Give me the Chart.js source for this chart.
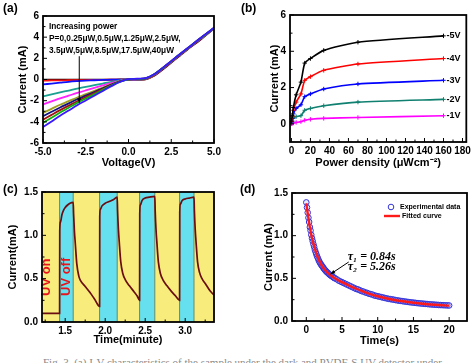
<!DOCTYPE html>
<html><head><meta charset="utf-8">
<script src="https://cdn.jsdelivr.net/npm/chart.js@4.4.1/dist/chart.umd.min.js"></script>
<style>
html,body{margin:0;padding:0;background:#fff;}
#wrap{position:relative;width:474px;height:363px;overflow:hidden;background:#fff;}
canvas{position:absolute;}
.lbl{position:absolute;font:bold 12px "Liberation Sans",Arial,sans-serif;color:#000;}
#cap{position:absolute;left:43px;top:356px;font:11px/12px "Liberation Serif",serif;color:#8a8a8a;white-space:nowrap;}
</style></head><body>
<div id="wrap">
<canvas id="ca" width="237" height="175" style="left:0;top:0"></canvas>
<canvas id="cb" width="237" height="175" style="left:237px;top:0"></canvas>
<canvas id="cc" width="237" height="180" style="left:0;top:175px"></canvas>
<canvas id="cd" width="237" height="180" style="left:237px;top:175px"></canvas>
<div class="lbl" style="left:3px;top:1px">(a)</div>
<div class="lbl" style="left:241px;top:1px">(b)</div>
<div class="lbl" style="left:3px;top:182px">(c)</div>
<div class="lbl" style="left:240px;top:182px">(d)</div>
<div id="cap">Fig. 3&nbsp; (a) I-V characteristics of the sample under the dark and PVDF-S UV detector under</div>
</div>
<script>
// ---------- Panel (a): I-V curves ----------
const ivVoltage = [-5,-4.5,-4,-3.5,-3,-2.5,-2,-1.5,-1,-0.5,0,0.5,1,1.5,2,2.5,3,3.5,4,4.5,5];
const ivPowerLabels = ['0','0.25μW','0.5μW','1.25μW','2.5μW','3.5μW','5μW','8.5μW','17.5μW','40μW'];
const ivI0 = [-0.02,-0.02,-0.02,-0.02,-0.02,-0.02,-0.01,-0.01,-0.01,0,0, 0,0.02,0.35,0.95,1.6,2.25,2.9,3.5,4.15,4.8];
const ivI1 = [-0.10,-0.09,-0.08,-0.07,-0.06,-0.05,-0.04,-0.03,-0.02,-0.01,0, 0,0.03,0.38,0.98,1.62,2.28,2.92,3.55,4.17,4.82];
const ivI2 = [-0.47,-0.38,-0.30,-0.22,-0.16,-0.11,-0.07,-0.04,-0.02,-0.01,0, 0.01,0.05,0.42,1.02,1.66,2.32,2.95,3.58,4.2,4.84];
const ivI3 = [-1.6,-1.41,-1.22,-1.04,-0.86,-0.70,-0.54,-0.38,-0.22,-0.08,0, 0.02,0.06,0.44,1.04,1.68,2.33,2.96,3.6,4.21,4.85];
const ivI4 = [-2.35,-2.07,-1.79,-1.53,-1.27,-1.03,-0.80,-0.56,-0.33,-0.12,0.01, 0.03,0.07,0.45,1.05,1.69,2.34,2.97,3.61,4.22,4.86];
const ivI5 = [-3.15,-2.77,-2.39,-2.05,-1.70,-1.39,-1.07,-0.76,-0.44,-0.16,0.01, 0.03,0.08,0.46,1.06,1.70,2.35,2.98,3.62,4.23,4.86];
const ivI6 = [-3.47,-3.05,-2.64,-2.26,-1.87,-1.53,-1.18,-0.83,-0.49,-0.17,0.02, 0.04,0.09,0.47,1.07,1.71,2.36,2.99,3.63,4.24,4.87];
const ivI7 = [-3.8,-3.34,-2.89,-2.47,-2.05,-1.67,-1.29,-0.91,-0.53,-0.19,0.02, 0.05,0.10,0.48,1.08,1.72,2.37,3.0,3.64,4.25,4.88];
const ivI8 = [-4.1,-3.61,-3.12,-2.67,-2.21,-1.80,-1.39,-0.98,-0.57,-0.21,0.02, 0.06,0.11,0.49,1.09,1.73,2.38,3.01,3.65,4.26,4.88];
const ivI9 = [-4.5,-3.96,-3.42,-2.93,-2.43,-1.98,-1.53,-1.08,-0.63,-0.23,0.03, 0.07,0.12,0.5,1.1,1.74,2.39,3.02,3.66,4.27,4.9];
const ivXTicks = [-5,-2.5,0,2.5,5];
const ivYTicks = [-6,-4,-2,0,2,4,6];
const ivNote = ['Increasing power','P=0,0.25μW,0.5μW,1.25μW,2.5μW,','3.5μW,5μW,8.5μW,17.5μW,40μW'];

// ---------- Panel (b): current vs power density ----------
const pdDensity = [0,1,2,5,10,14,20,34,70,160];
const pdBias = ['-5V','-4V','-3V','-2V','-1V'];
const pdM5 = [0.15,0.45,0.9,1.6,2.3,3.35,3.6,4.05,4.5,4.85];
const pdM4 = [0.12,0.4,0.75,1.2,1.65,2.4,2.6,2.95,3.3,3.6];
const pdM3 = [0.1,0.3,0.55,0.85,1.05,1.5,1.65,1.92,2.2,2.4];
const pdM2 = [0.05,0.15,0.3,0.4,0.45,0.75,0.85,1.0,1.2,1.35];
const pdM1 = [0,0.02,0.05,0.08,0.12,0.2,0.25,0.3,0.35,0.45];
const pdXTicks = [0,20,40,60,80,100,120,140,160,180];
const pdYTicks = [0,2,4,6];

// ---------- Panel (c): switching ----------
const swTime = [1.21,1.43,1.432,1.44,1.46,1.48,1.50,1.53,1.56,1.60,1.605,1.615,1.625,1.645,1.67,1.69,1.75,1.81,1.87,1.93,
  1.932,1.94,1.96,2.00,2.05,2.10,2.15,2.155,2.165,2.175,2.195,2.22,2.25,2.30,2.36,2.40,2.43,
  2.432,2.44,2.46,2.50,2.55,2.62,2.625,2.635,2.645,2.665,2.69,2.72,2.77,2.83,2.88,2.93,
  2.932,2.94,2.96,3.00,3.05,3.11,3.115,3.125,3.135,3.155,3.18,3.21,3.26,3.31,3.36];
const swCurrent = [0.10,0.10,1.05,1.15,1.24,1.29,1.32,1.35,1.37,1.38,1.25,1.05,0.92,0.67,0.53,0.48,0.41,0.34,0.26,0.18,
  1.22,1.30,1.34,1.37,1.39,1.41,1.44,1.28,1.07,0.93,0.69,0.56,0.49,0.42,0.35,0.30,0.25,
  1.25,1.35,1.40,1.43,1.44,1.45,1.28,1.07,0.93,0.69,0.56,0.49,0.42,0.35,0.30,0.25,
  1.27,1.36,1.40,1.42,1.43,1.44,1.28,1.07,0.93,0.69,0.57,0.50,0.43,0.36,0.31];
const uvOnStart = [1.43,1.93,2.43,2.93];
const uvOnEnd = [1.60,2.15,2.62,3.11];
const swXTicks = [1.5,2.0,2.5,3.0];
const swYTicks = [0,0.5,1.0,1.5];

// ---------- Panel (d): decay fit ----------
const dcTime = [0,0.1,0.2,0.3,0.4,0.5,0.6,0.7,0.8,0.9,1.0,1.1,1.2,1.3,1.4,1.5,1.6,1.7,1.8,1.9,2.0,2.1,2.2,2.3,2.4,2.5,2.6,2.7,2.8,2.9,3.0,3.1,3.2,3.3,3.4,3.5,3.6,3.7,3.8,3.9,4.0,
  4.25,4.5,4.75,5,5.25,5.5,5.75,6,6.25,6.5,6.75,7,7.25,7.5,7.75,8,8.25,8.5,8.75,9,9.25,9.5,9.75,10,10.25,10.5,10.75,11,11.25,11.5,11.75,12,12.25,12.5,12.75,13,13.25,13.5,13.75,14,14.25,14.5,14.75,15,15.25,15.5,15.75,16,16.25,16.5,16.75,17,17.25,17.5,17.75,18,18.25,18.5,18.75,19,19.25,19.5,19.75,20];
const dcExp = [1.39,1.33,1.27,1.21,1.16,1.10,1.06,1.01,0.97,0.935,0.90,0.87,0.835,0.81,0.785,0.76,0.74,0.72,0.70,0.685,0.67,0.658,0.646,0.634,0.622,0.61,0.60,0.59,0.58,0.572,0.565,0.557,0.549,0.541,0.535,0.53,0.524,0.518,0.512,0.506,0.50,
  0.49,0.475,0.465,0.455,0.445,0.435,0.425,0.415,0.405,0.395,0.385,0.375,0.37,0.36,0.35,0.345,0.335,0.33,0.32,0.315,0.31,0.30,0.295,0.29,0.285,0.28,0.275,0.27,0.265,0.26,0.257,0.253,0.25,0.245,0.242,0.238,0.235,0.232,0.229,0.226,0.223,0.22,0.218,0.215,0.213,0.21,0.208,0.206,0.204,0.202,0.2,0.198,0.196,0.194,0.193,0.191,0.19,0.188,0.187,0.186,0.185,0.184,0.183,0.182];
const fitTime = [0,0.25,0.5,0.75,1,1.5,2,2.5,3,3.5,4,5,6,7,8,9,10,12,14,16,18,20];
const fitCurrent = [1.38,1.23,1.10,0.99,0.905,0.77,0.675,0.61,0.565,0.53,0.50,0.455,0.415,0.378,0.345,0.315,0.29,0.252,0.226,0.205,0.19,0.18];
const dcXTicks = [0,5,10,15,20];
const dcYTicks = [0,0.5,1.0,1.5];
const dcLegend = ['Experimental data','Fitted curve'];
const dcTau = ['τ₁ = 0.84s','τ₂ = 5.26s'];

// ---------- common ----------
const FF = '"Liberation Sans", Arial, sans-serif';
Chart.defaults.font.family = FF;
Chart.defaults.color = '#000';

function axis(o){
  return {
    type:'linear', min:o.min, max:o.max,
    afterBuildTicks: s => { s.ticks = o.ticks.map(v => ({value:v})); },
    afterFit: s => { if (o.w != null) s.width = o.w; if (o.h != null) s.height = o.h; },
    ticks:{font:{size:10, weight:'bold'}, color:'#000', padding:o.tp, callback:o.fmt, maxRotation:0, autoSkip:false},
    grid:{display:false, drawTicks:false},
    border:{display:false},
    title:{display:true, text:o.title, color:'#000', font:{size:11, weight:'bold'}, padding:o.titlePad}
  };
}

const framePlugin = {
  id:'frame',
  afterDraw(chart){
    const ctx = chart.ctx, a = chart.chartArea, xs = chart.scales.x, ys = chart.scales.y;
    ctx.save();
    ctx.strokeStyle = '#000'; ctx.lineWidth = 1;
    const xt = xs.ticks.map(t => t.value), yt = ys.ticks.map(t => t.value);
    function minors(vals, s){
      const out = [];
      if (vals.length < 2) return out;
      const step = vals[1] - vals[0];
      for (let i = -1; i < vals.length; i++){
        const v = (i < 0 ? vals[0] - step/2 : vals[i] + step/2);
        if (v > s.min && v < s.max) out.push(v);
      }
      return out;
    }
    ctx.beginPath();
    xt.forEach(v => { const p = xs.getPixelForValue(v); ctx.moveTo(p, a.bottom); ctx.lineTo(p, a.bottom - 4); });
    minors(xt, xs).forEach(v => { const p = xs.getPixelForValue(v); ctx.moveTo(p, a.bottom); ctx.lineTo(p, a.bottom - 2.5); });
    yt.forEach(v => { const p = ys.getPixelForValue(v); ctx.moveTo(a.left, p); ctx.lineTo(a.left + 4, p); });
    minors(yt, ys).forEach(v => { const p = ys.getPixelForValue(v); ctx.moveTo(a.left, p); ctx.lineTo(a.left + 2.5, p); });
    ctx.stroke();
    ctx.lineWidth = 1.8;
    ctx.strokeRect(a.left, a.top, a.right - a.left, a.bottom - a.top);
    ctx.restore();
  }
};

function arrow(ctx, x1, y1, x2, y2, head){
  ctx.beginPath(); ctx.moveTo(x1, y1); ctx.lineTo(x2, y2); ctx.stroke();
  const ang = Math.atan2(y2 - y1, x2 - x1);
  ctx.beginPath(); ctx.moveTo(x2, y2);
  ctx.lineTo(x2 - head*Math.cos(ang - 0.4), y2 - head*Math.sin(ang - 0.4));
  ctx.lineTo(x2 - head*Math.cos(ang + 0.4), y2 - head*Math.sin(ang + 0.4));
  ctx.closePath(); ctx.fill();
}

const baseOpts = (scales, padding) => ({
  responsive:false, animation:false, devicePixelRatio:1,
  layout:{padding},
  plugins:{legend:{display:false}, tooltip:{enabled:false}},
  scales
});

// ---------- Chart (a) ----------
const ivCurves = [ivI0,ivI1,ivI2,ivI3,ivI4,ivI5,ivI6,ivI7,ivI8,ivI9];
const ivColors = ['#1a0000','#ff1010','#1010ff','#18a090','#ff20ff','#a0a020','#101080','#a01010','#10b010','#3818ff'];
new Chart(document.getElementById('ca'), {
  type:'line',
  data:{datasets: ivCurves.map((arr, i) => ({
    label: ivPowerLabels[i],
    data: ivVoltage.map((v, k) => ({x:v, y:arr[k]})),
    borderColor: ivColors[i], borderWidth:1.8, pointRadius:0, tension:0.35,
    order: ivCurves.length - i
  }))},
  options: baseOpts({
    x: axis({min:-5, max:5, ticks:ivXTicks, h:32, tp:3, fmt:v => v.toFixed(1), title:'Voltage(V)', titlePad:{top:0, bottom:5}}),
    y: axis({min:-6, max:6, ticks:ivYTicks, w:43, tp:4, fmt:v => String(v), title:'Current (mA)', titlePad:{top:16, bottom:0}})
  }, {top:16, right:23, left:0, bottom:0}),
  plugins:[framePlugin, {
    id:'noteA',
    afterDatasetsDraw(chart){
      const ctx = chart.ctx, xs = chart.scales.x, ys = chart.scales.y, a = chart.chartArea;
      ctx.save();
      ctx.fillStyle = '#000'; ctx.strokeStyle = '#000'; ctx.lineWidth = 1;
      ctx.font = 'bold 8.3px ' + FF; ctx.textBaseline = 'middle'; ctx.textAlign = 'left';
      ivNote.forEach((t, i) => ctx.fillText(t, a.left + 6, a.top + 11 + i * 12));
      const ax = xs.getPixelForValue(-2.88);
      arrow(ctx, ax, ys.getPixelForValue(2.2), ax, ys.getPixelForValue(-2.2), 5);
      ctx.restore();
    }
  }]
});

// ---------- Chart (b) ----------
const pdSeries = [pdM5,pdM4,pdM3,pdM2,pdM1];
const pdColors = ['#000000','#ff0000','#0000ff','#108070','#ff00ff'];
new Chart(document.getElementById('cb'), {
  type:'line',
  data:{datasets: pdSeries.map((arr, i) => ({
    label: pdBias[i],
    data: pdDensity.map((d, k) => ({x:d, y:arr[k]})),
    borderColor: pdColors[i], backgroundColor: pdColors[i], borderWidth:1.6,
    pointStyle:'cross', pointRadius:2.2, pointBorderWidth:1, tension:0.2
  }))},
  options: baseOpts({
    x: axis({min:-1.5, max:184, ticks:pdXTicks, h:33, tp:3, fmt:v => String(v), title:'Power density (μWcm⁻²)', titlePad:{top:0, bottom:5}}),
    y: axis({min:-1, max:6, ticks:pdYTicks, w:53, tp:4, fmt:v => String(v), title:'Current (mA)', titlePad:{top:31, bottom:0}})
  }, {top:15, right:7, left:0, bottom:0}),
  plugins:[framePlugin, {
    id:'labelsB',
    afterDatasetsDraw(chart){
      const ctx = chart.ctx, xs = chart.scales.x, ys = chart.scales.y;
      ctx.save();
      ctx.fillStyle = '#000'; ctx.font = 'bold 9px ' + FF; ctx.textBaseline = 'middle'; ctx.textAlign = 'left';
      pdSeries.forEach((arr, i) => {
        const n = arr.length - 1;
        ctx.fillText(pdBias[i], xs.getPixelForValue(pdDensity[n]) + 3, ys.getPixelForValue(arr[n]));
      });
      ctx.restore();
    }
  }]
});

// ---------- Chart (c) ----------
new Chart(document.getElementById('cc'), {
  type:'line',
  data:{datasets:[{
    label:'Current',
    data: swTime.map((t, k) => ({x:t, y:swCurrent[k]})),
    borderColor:'#6a0c10', borderWidth:1.7, pointRadius:0, cubicInterpolationMode:'monotone'
  }]},
  options: baseOpts({
    x: axis({min:1.21, max:3.36, ticks:swXTicks, h:33, tp:3, fmt:v => v.toFixed(1), title:'Time(minute)', titlePad:{top:0, bottom:8}}),
    y: axis({min:0, max:1.5, ticks:swYTicks, w:42, tp:4, fmt:v => v.toFixed(1), title:'Current(mA)', titlePad:{top:6, bottom:0}})
  }, {top:17, right:23, left:0, bottom:0}),
  plugins:[{
    id:'bands',
    beforeDatasetsDraw(chart){
      const ctx = chart.ctx, xs = chart.scales.x, a = chart.chartArea;
      ctx.save();
      ctx.fillStyle = '#f7ec7c';
      ctx.fillRect(a.left, a.top, a.right - a.left, a.bottom - a.top);
      ctx.fillStyle = '#66e0ee';
      ctx.strokeStyle = '#5f8c6e'; ctx.lineWidth = 1;
      uvOnStart.forEach((s, i) => {
        const x1 = xs.getPixelForValue(s), x2 = xs.getPixelForValue(uvOnEnd[i]);
        ctx.fillRect(x1, a.top, x2 - x1, a.bottom - a.top);
        ctx.beginPath();
        ctx.moveTo(x1, a.top); ctx.lineTo(x1, a.bottom);
        ctx.moveTo(x2, a.top); ctx.lineTo(x2, a.bottom);
        ctx.stroke();
      });
      ctx.fillStyle = '#e8141c'; ctx.font = 'bold 13px ' + FF; ctx.textBaseline = 'middle'; ctx.textAlign = 'left';
      const yb = a.bottom - 26;
      ctx.save(); ctx.translate(xs.getPixelForValue(uvOnStart[0]) - 13, yb); ctx.rotate(-Math.PI/2); ctx.fillText('UV on', 0, 0); ctx.restore();
      ctx.save(); ctx.translate(xs.getPixelForValue(uvOnStart[0]) + 7, yb); ctx.rotate(-Math.PI/2); ctx.fillText('UV off', 0, 0); ctx.restore();
      ctx.restore();
    }
  }, framePlugin]
});

// ---------- Chart (d) ----------
new Chart(document.getElementById('cd'), {
  type:'line',
  data:{datasets:[
    {label:dcLegend[0], data: dcTime.map((t, k) => ({x:t, y:dcExp[k]})), showLine:false,
     pointStyle:'circle', pointRadius:2.8, pointBorderWidth:1, borderColor:'#3434d8', backgroundColor:'rgba(190,190,255,0.35)', order:1},
    {label:dcLegend[1], data: fitTime.map((t, k) => ({x:t, y:fitCurrent[k]})), borderColor:'#ff1a1a', borderWidth:2.4,
     pointRadius:0, tension:0.4, cubicInterpolationMode:'monotone', order:0}
  ]},
  options: baseOpts({
    x: axis({min:-2, max:22.5, ticks:dcXTicks, h:34, tp:3, fmt:v => String(v), title:'Time(s)', titlePad:{top:0, bottom:7}}),
    y: axis({min:0, max:1.5, ticks:dcYTicks, w:55, tp:4, fmt:v => v.toFixed(1), title:'Current (mA)', titlePad:{top:25, bottom:0}})
  }, {top:18, right:7, left:0, bottom:0}),
  plugins:[framePlugin, {
    id:'noteD',
    afterDatasetsDraw(chart){
      const ctx = chart.ctx, a = chart.chartArea, xs = chart.scales.x, ys = chart.scales.y;
      ctx.save();
      // legend
      const lx = a.right - 83, ly = a.top + 14;
      ctx.strokeStyle = '#3434d8'; ctx.lineWidth = 1;
      ctx.beginPath(); ctx.arc(lx + 7, ly, 2.8, 0, Math.PI*2); ctx.stroke();
      ctx.strokeStyle = '#ff1a1a'; ctx.lineWidth = 2.4;
      ctx.beginPath(); ctx.moveTo(lx, ly + 9); ctx.lineTo(lx + 16, ly + 9); ctx.stroke();
      ctx.fillStyle = '#000'; ctx.font = 'bold 7px ' + FF; ctx.textBaseline = 'middle'; ctx.textAlign = 'left';
      ctx.fillText(dcLegend[0], lx + 16, ly);
      ctx.fillText(dcLegend[1], lx + 18, ly + 9);
      // tau annotation
      ctx.font = 'italic bold 12px "Liberation Serif", serif';
      const tx = xs.getPixelForValue(5.8), ty = ys.getPixelForValue(0.75);
      ctx.fillText(dcTau[0], tx, ty);
      ctx.fillText(dcTau[1], tx, ty + 10);
      ctx.strokeStyle = '#000'; ctx.lineWidth = 1;
      arrow(ctx, tx + 1, ty + 5, xs.getPixelForValue(3.4), ys.getPixelForValue(0.55), 5);
      ctx.restore();
    }
  }]
});
</script>
</body></html>
